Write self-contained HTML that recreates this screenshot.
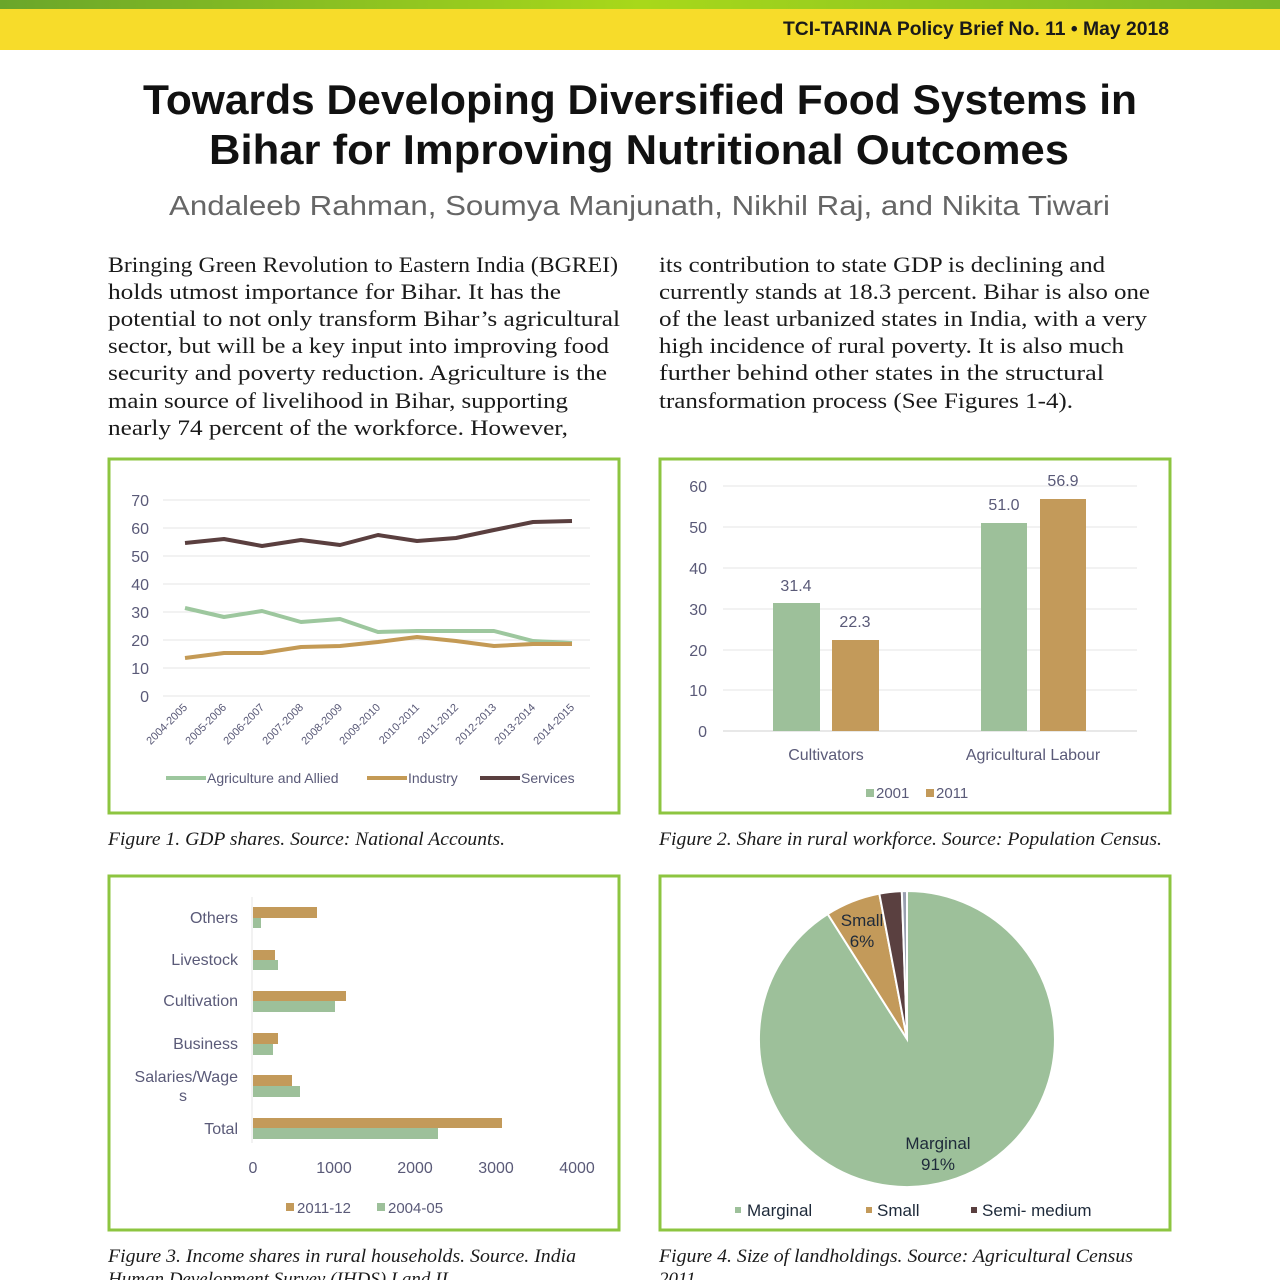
<!DOCTYPE html>
<html><head><meta charset="utf-8"><style>
html,body{margin:0;padding:0;background:#fff;}
svg{display:block}
.b{font-family:"Liberation Serif",serif;font-size:22px;fill:#1a1a1a}
.c{font-family:"Liberation Serif",serif;font-size:19px;font-style:italic;fill:#1a1a1a}
.a{font-family:"Liberation Sans",sans-serif;font-size:16px;fill:#5a5a78}
</style></head><body>
<svg width="1280" height="1280" viewBox="0 0 1280 1280" xmlns="http://www.w3.org/2000/svg">
<defs><linearGradient id="g" x1="0" x2="1"><stop offset="0" stop-color="#6aa62a"/><stop offset="0.5" stop-color="#a8d81a"/><stop offset="1" stop-color="#7ab828"/></linearGradient></defs>
<rect x="0" y="0" width="1280" height="9" fill="url(#g)"/>
<rect x="0" y="9" width="1280" height="41" fill="#f7dc2a"/>
<text x="1169" y="35" text-anchor="end" font-family="Liberation Sans,sans-serif" font-weight="bold" font-size="19" fill="#1a1a1a" textLength="386" lengthAdjust="spacingAndGlyphs">TCI-TARINA Policy Brief No. 11 • May 2018</text>

<g font-family="Liberation Sans,sans-serif" font-weight="bold" font-size="42" fill="#111">
<text x="143" y="114" textLength="994" lengthAdjust="spacingAndGlyphs">Towards Developing Diversified Food Systems in</text>
<text x="209" y="164" textLength="860" lengthAdjust="spacingAndGlyphs">Bihar for Improving Nutritional Outcomes</text>
</g>
<text x="169" y="215" font-family="Liberation Sans,sans-serif" font-size="28" fill="#666" textLength="941" lengthAdjust="spacingAndGlyphs">Andaleeb Rahman, Soumya Manjunath, Nikhil Raj, and Nikita Tiwari</text>

<g class="b">
<text x="108" y="272" textLength="510" lengthAdjust="spacingAndGlyphs">Bringing Green Revolution to Eastern India (BGREI)</text>
<text x="108" y="299" textLength="453" lengthAdjust="spacingAndGlyphs">holds utmost importance for Bihar. It has the</text>
<text x="108" y="326" textLength="512" lengthAdjust="spacingAndGlyphs">potential to not only transform Bihar’s agricultural</text>
<text x="108" y="353" textLength="501" lengthAdjust="spacingAndGlyphs">sector, but will be a key input into improving food</text>
<text x="108" y="380" textLength="499" lengthAdjust="spacingAndGlyphs">security and poverty reduction. Agriculture is the</text>
<text x="108" y="408" textLength="460" lengthAdjust="spacingAndGlyphs">main source of livelihood in Bihar, supporting</text>
<text x="108" y="435" textLength="460" lengthAdjust="spacingAndGlyphs">nearly 74 percent of the workforce. However,</text>
<text x="659" y="272" textLength="446" lengthAdjust="spacingAndGlyphs">its contribution to state GDP is declining and</text>
<text x="659" y="299" textLength="491" lengthAdjust="spacingAndGlyphs">currently stands at 18.3 percent. Bihar is also one</text>
<text x="659" y="326" textLength="488" lengthAdjust="spacingAndGlyphs">of the least urbanized states in India, with a very</text>
<text x="659" y="353" textLength="465" lengthAdjust="spacingAndGlyphs">high incidence of rural poverty. It is also much</text>
<text x="659" y="380" textLength="445" lengthAdjust="spacingAndGlyphs">further behind other states in the structural</text>
<text x="659" y="408" textLength="414" lengthAdjust="spacingAndGlyphs">transformation process  (See Figures 1-4).</text>
</g>

<g fill="none" stroke="#8dc540" stroke-width="3">
<rect x="109" y="459" width="510" height="354"/>
<rect x="660" y="459" width="510" height="354"/>
<rect x="109" y="876" width="510" height="354"/>
<rect x="660" y="876" width="510" height="354"/>
</g>

<!-- Fig 1 -->
<g stroke="#e6e6e6" stroke-width="1">
<line x1="163" x2="590" y1="500" y2="500"/><line x1="163" x2="590" y1="528" y2="528"/>
<line x1="163" x2="590" y1="556" y2="556"/><line x1="163" x2="590" y1="584" y2="584"/>
<line x1="163" x2="590" y1="612" y2="612"/><line x1="163" x2="590" y1="640" y2="640"/>
<line x1="163" x2="590" y1="668" y2="668"/><line x1="163" x2="590" y1="696" y2="696"/>
</g>
<g class="a" text-anchor="end">
<text x="149" y="506">70</text><text x="149" y="534">60</text><text x="149" y="562">50</text>
<text x="149" y="590">40</text><text x="149" y="618">30</text><text x="149" y="646">20</text>
<text x="149" y="674">10</text><text x="149" y="702">0</text>
</g>
<g fill="none" stroke-width="4" stroke-linejoin="round">
<polyline stroke="#5a3f3f" points="185,543 224,539 262,546 301,540 340,545 378,535 417,541 456,538 494,530 533,522 572,521"/>
<polyline stroke="#9dc79e" points="185,608 224,617 262,611 301,622 340,619 378,632 417,631 456,631 494,631 533,641 572,643"/>
<polyline stroke="#c49a55" points="185,658 224,653 262,653 301,647 340,646 378,642 417,637 456,641 494,646 533,644 572,644"/>
</g>
<g font-family="Liberation Sans,sans-serif" font-size="11" fill="#5a5a78" text-anchor="end">
<text transform="translate(188,708) rotate(-45)">2004-2005</text>
<text transform="translate(227,708) rotate(-45)">2005-2006</text>
<text transform="translate(265,708) rotate(-45)">2006-2007</text>
<text transform="translate(304,708) rotate(-45)">2007-2008</text>
<text transform="translate(343,708) rotate(-45)">2008-2009</text>
<text transform="translate(381,708) rotate(-45)">2009-2010</text>
<text transform="translate(420,708) rotate(-45)">2010-2011</text>
<text transform="translate(459,708) rotate(-45)">2011-2012</text>
<text transform="translate(497,708) rotate(-45)">2012-2013</text>
<text transform="translate(536,708) rotate(-45)">2013-2014</text>
<text transform="translate(575,708) rotate(-45)">2014-2015</text>
</g>
<g stroke-width="4"><line x1="166" x2="206" y1="778" y2="778" stroke="#9dc79e"/>
<line x1="367" x2="407" y1="778" y2="778" stroke="#c49a55"/>
<line x1="480" x2="520" y1="778" y2="778" stroke="#5a3f3f"/></g>
<g font-family="Liberation Sans,sans-serif" font-size="14" fill="#5a5a78">
<text x="207" y="783">Agriculture and Allied</text><text x="408" y="783">Industry</text><text x="521" y="783">Services</text>
</g>

<!-- Fig 2 -->
<g stroke="#e6e6e6"><line x1="723" x2="1137" y1="486" y2="486"/><line x1="723" x2="1137" y1="527" y2="527"/>
<line x1="723" x2="1137" y1="568" y2="568"/><line x1="723" x2="1137" y1="609" y2="609"/>
<line x1="723" x2="1137" y1="650" y2="650"/><line x1="723" x2="1137" y1="690" y2="690"/>
<line x1="723" x2="1137" y1="731" y2="731" stroke="#d0d0d0"/></g>
<g class="a" text-anchor="end">
<text x="707" y="492">60</text><text x="707" y="533">50</text><text x="707" y="574">40</text>
<text x="707" y="615">30</text><text x="707" y="656">20</text><text x="707" y="696">10</text><text x="707" y="737">0</text>
</g>
<rect x="773" y="603" width="47" height="128" fill="#9dc09a"/>
<rect x="832" y="640" width="47" height="91" fill="#c39a5a"/>
<rect x="981" y="523" width="46" height="208" fill="#9dc09a"/>
<rect x="1040" y="499" width="46" height="232" fill="#c39a5a"/>
<g class="a" text-anchor="middle">
<text x="796" y="591">31.4</text><text x="855" y="627">22.3</text><text x="1004" y="510">51.0</text><text x="1063" y="486">56.9</text>
<text x="826" y="760">Cultivators</text><text x="1033" y="760">Agricultural Labour</text>
</g>
<rect x="866" y="789" width="8" height="8" fill="#9dc09a"/><rect x="926" y="789" width="8" height="8" fill="#c39a5a"/>
<g font-family="Liberation Sans,sans-serif" font-size="15" fill="#5a5a78"><text x="876" y="798">2001</text><text x="936" y="798">2011</text></g>

<!-- Fig 3 -->
<line x1="252" x2="252" y1="897" y2="1143" stroke="#e6e6e6"/>
<g>
<rect x="253" y="907" width="64" height="11" fill="#c39a5a"/><rect x="253" y="918" width="8" height="10" fill="#9dc09a"/>
<rect x="253" y="950" width="22" height="10" fill="#c39a5a"/><rect x="253" y="960" width="25" height="10" fill="#9dc09a"/>
<rect x="253" y="991" width="93" height="10" fill="#c39a5a"/><rect x="253" y="1001" width="82" height="11" fill="#9dc09a"/>
<rect x="253" y="1033" width="25" height="11" fill="#c39a5a"/><rect x="253" y="1044" width="20" height="11" fill="#9dc09a"/>
<rect x="253" y="1075" width="39" height="11" fill="#c39a5a"/><rect x="253" y="1086" width="47" height="11" fill="#9dc09a"/>
<rect x="253" y="1118" width="249" height="10" fill="#c39a5a"/><rect x="253" y="1128" width="185" height="11" fill="#9dc09a"/>
</g>
<g class="a" text-anchor="end">
<text x="238" y="923">Others</text><text x="238" y="965">Livestock</text><text x="238" y="1006">Cultivation</text>
<text x="238" y="1049">Business</text><text x="238" y="1082">Salaries/Wage</text><text x="187" y="1101">s</text>
<text x="238" y="1134">Total</text>
</g>
<g class="a" text-anchor="middle">
<text x="253" y="1173">0</text><text x="334" y="1173">1000</text><text x="415" y="1173">2000</text><text x="496" y="1173">3000</text><text x="577" y="1173">4000</text>
</g>
<rect x="286" y="1203" width="8" height="8" fill="#c39a5a"/><rect x="377" y="1203" width="8" height="8" fill="#9dc09a"/>
<g font-family="Liberation Sans,sans-serif" font-size="15" fill="#5a5a78"><text x="297" y="1213">2011-12</text><text x="388" y="1213">2004-05</text></g>

<!-- Fig 4 -->
<g stroke="#fff" stroke-width="2">
<path d="M907,1039 L907,891 A148,148 0 1 1 827.7,914 Z" fill="#9dc09a"/>
<path d="M907,1039 L827.7,914 A148,148 0 0 1 879.3,893.6 Z" fill="#c39a5a"/>
<path d="M907,1039 L879.3,893.6 A148,148 0 0 1 901.8,891.1 Z" fill="#5a4040"/>
<path d="M907,1039 L901.8,891.1 A148,148 0 0 1 907,891 Z" fill="#9aa0b0"/>
</g>
<g font-family="Liberation Sans,sans-serif" font-size="17" fill="#1e2a3a" text-anchor="middle">
<text x="862" y="926">Small</text><text x="862" y="947">6%</text>
<text x="938" y="1149">Marginal</text><text x="938" y="1170">91%</text>
</g>
<rect x="735" y="1207" width="6" height="6" fill="#9dc09a"/><rect x="866" y="1207" width="6" height="6" fill="#c39a5a"/><rect x="971" y="1207" width="6" height="6" fill="#5a4040"/>
<g font-family="Liberation Sans,sans-serif" font-size="17" fill="#1e2a3a"><text x="747" y="1216">Marginal</text><text x="877" y="1216">Small</text><text x="982" y="1216">Semi- medium</text></g>

<!-- captions -->
<g class="c">
<text x="108" y="845" textLength="397" lengthAdjust="spacingAndGlyphs">Figure 1. GDP shares. Source: National Accounts.</text>
<text x="659" y="845" textLength="503" lengthAdjust="spacingAndGlyphs">Figure 2. Share in rural workforce. Source: Population Census.</text>
<text x="108" y="1262" textLength="468" lengthAdjust="spacingAndGlyphs">Figure 3. Income shares in rural households. Source. India</text>
<text x="108" y="1285">Human Development Survey (IHDS) I and II</text>
<text x="659" y="1262" textLength="474" lengthAdjust="spacingAndGlyphs">Figure 4. Size of landholdings. Source: Agricultural Census</text>
<text x="659" y="1285">2011</text>
</g>
</svg>
</body></html>
